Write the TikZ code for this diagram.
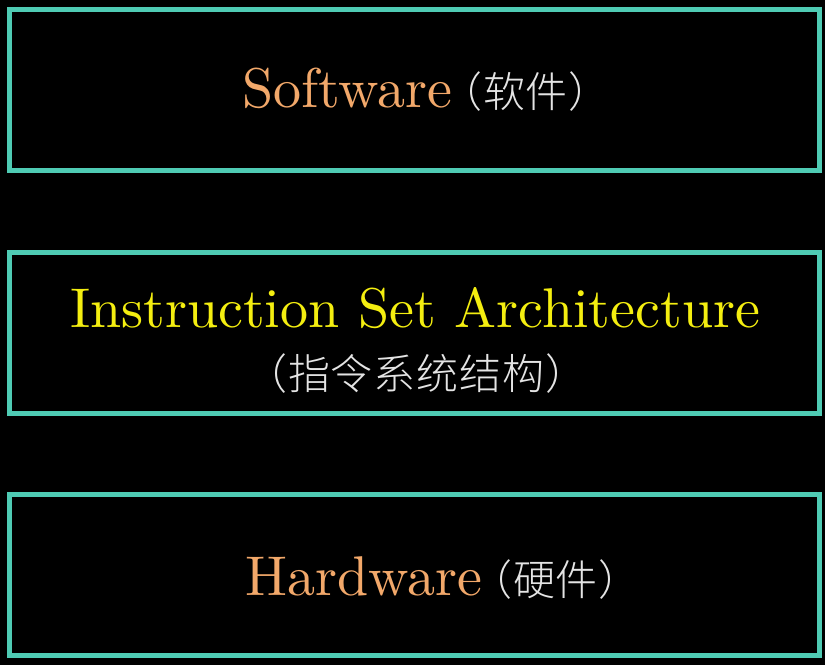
\documentclass[tikz,border=0pt]{standalone}
\usepackage{fontspec}
\setmainfont{lmroman10-regular}[Extension=.otf]
\newfontfamily\cjk{Noto Sans CJK SC Light}[LetterSpace=2]
\usepackage{tikz}

\definecolor{edgeteal}{HTML}{4FCBB4}
\definecolor{softorange}{HTML}{F2A86A}
\definecolor{isayellow}{HTML}{F4EE10}
\definecolor{zhgray}{HTML}{E4E4E4}

\newcommand{\zhtext}[1]{{\cjk\fontsize{42}{46}\selectfont\color{zhgray}#1}}
\newcommand{\entext}[2]{{\fontsize{56}{60}\selectfont\color{#1}#2}}

\tikzset{
    layer/.style={draw=edgeteal, line width=5pt, minimum width=810pt,
        minimum height=161pt, inner sep=0pt},
    label/.style={inner sep=0pt}
}

\begin{document}
\begin{tikzpicture}[x=1pt, y=-1pt]
\fill[black] (0, 0) rectangle (825, 665);
\useasboundingbox (0, 0) rectangle (825, 665);
% the three layers
\node[layer] (software) at (414, 89.5) {};
\node[layer] (isa) at (414, 332.5) {};
\node[layer] (hardware) at (414, 575) {};
% texts
\node[label, anchor=base west] (swen) at (242, 107) {\entext{softorange}{Software}};
\node[label, anchor=base west] (swzh) at (440, 107) {\zhtext{（软件）}};
\node[label, anchor=base] (isaen) at (415, 327) {\entext{isayellow}{Instruction Set Architecture}};
\node[label, anchor=base west] (isazh) at (245, 389) {\zhtext{（指令系统结构）}};
\node[label, anchor=base west] (hwen) at (245, 595) {\entext{softorange}{Hardware}};
\node[label, anchor=base west] (hwzh) at (470, 595) {\zhtext{（硬件）}};
\end{tikzpicture}
\end{document}
